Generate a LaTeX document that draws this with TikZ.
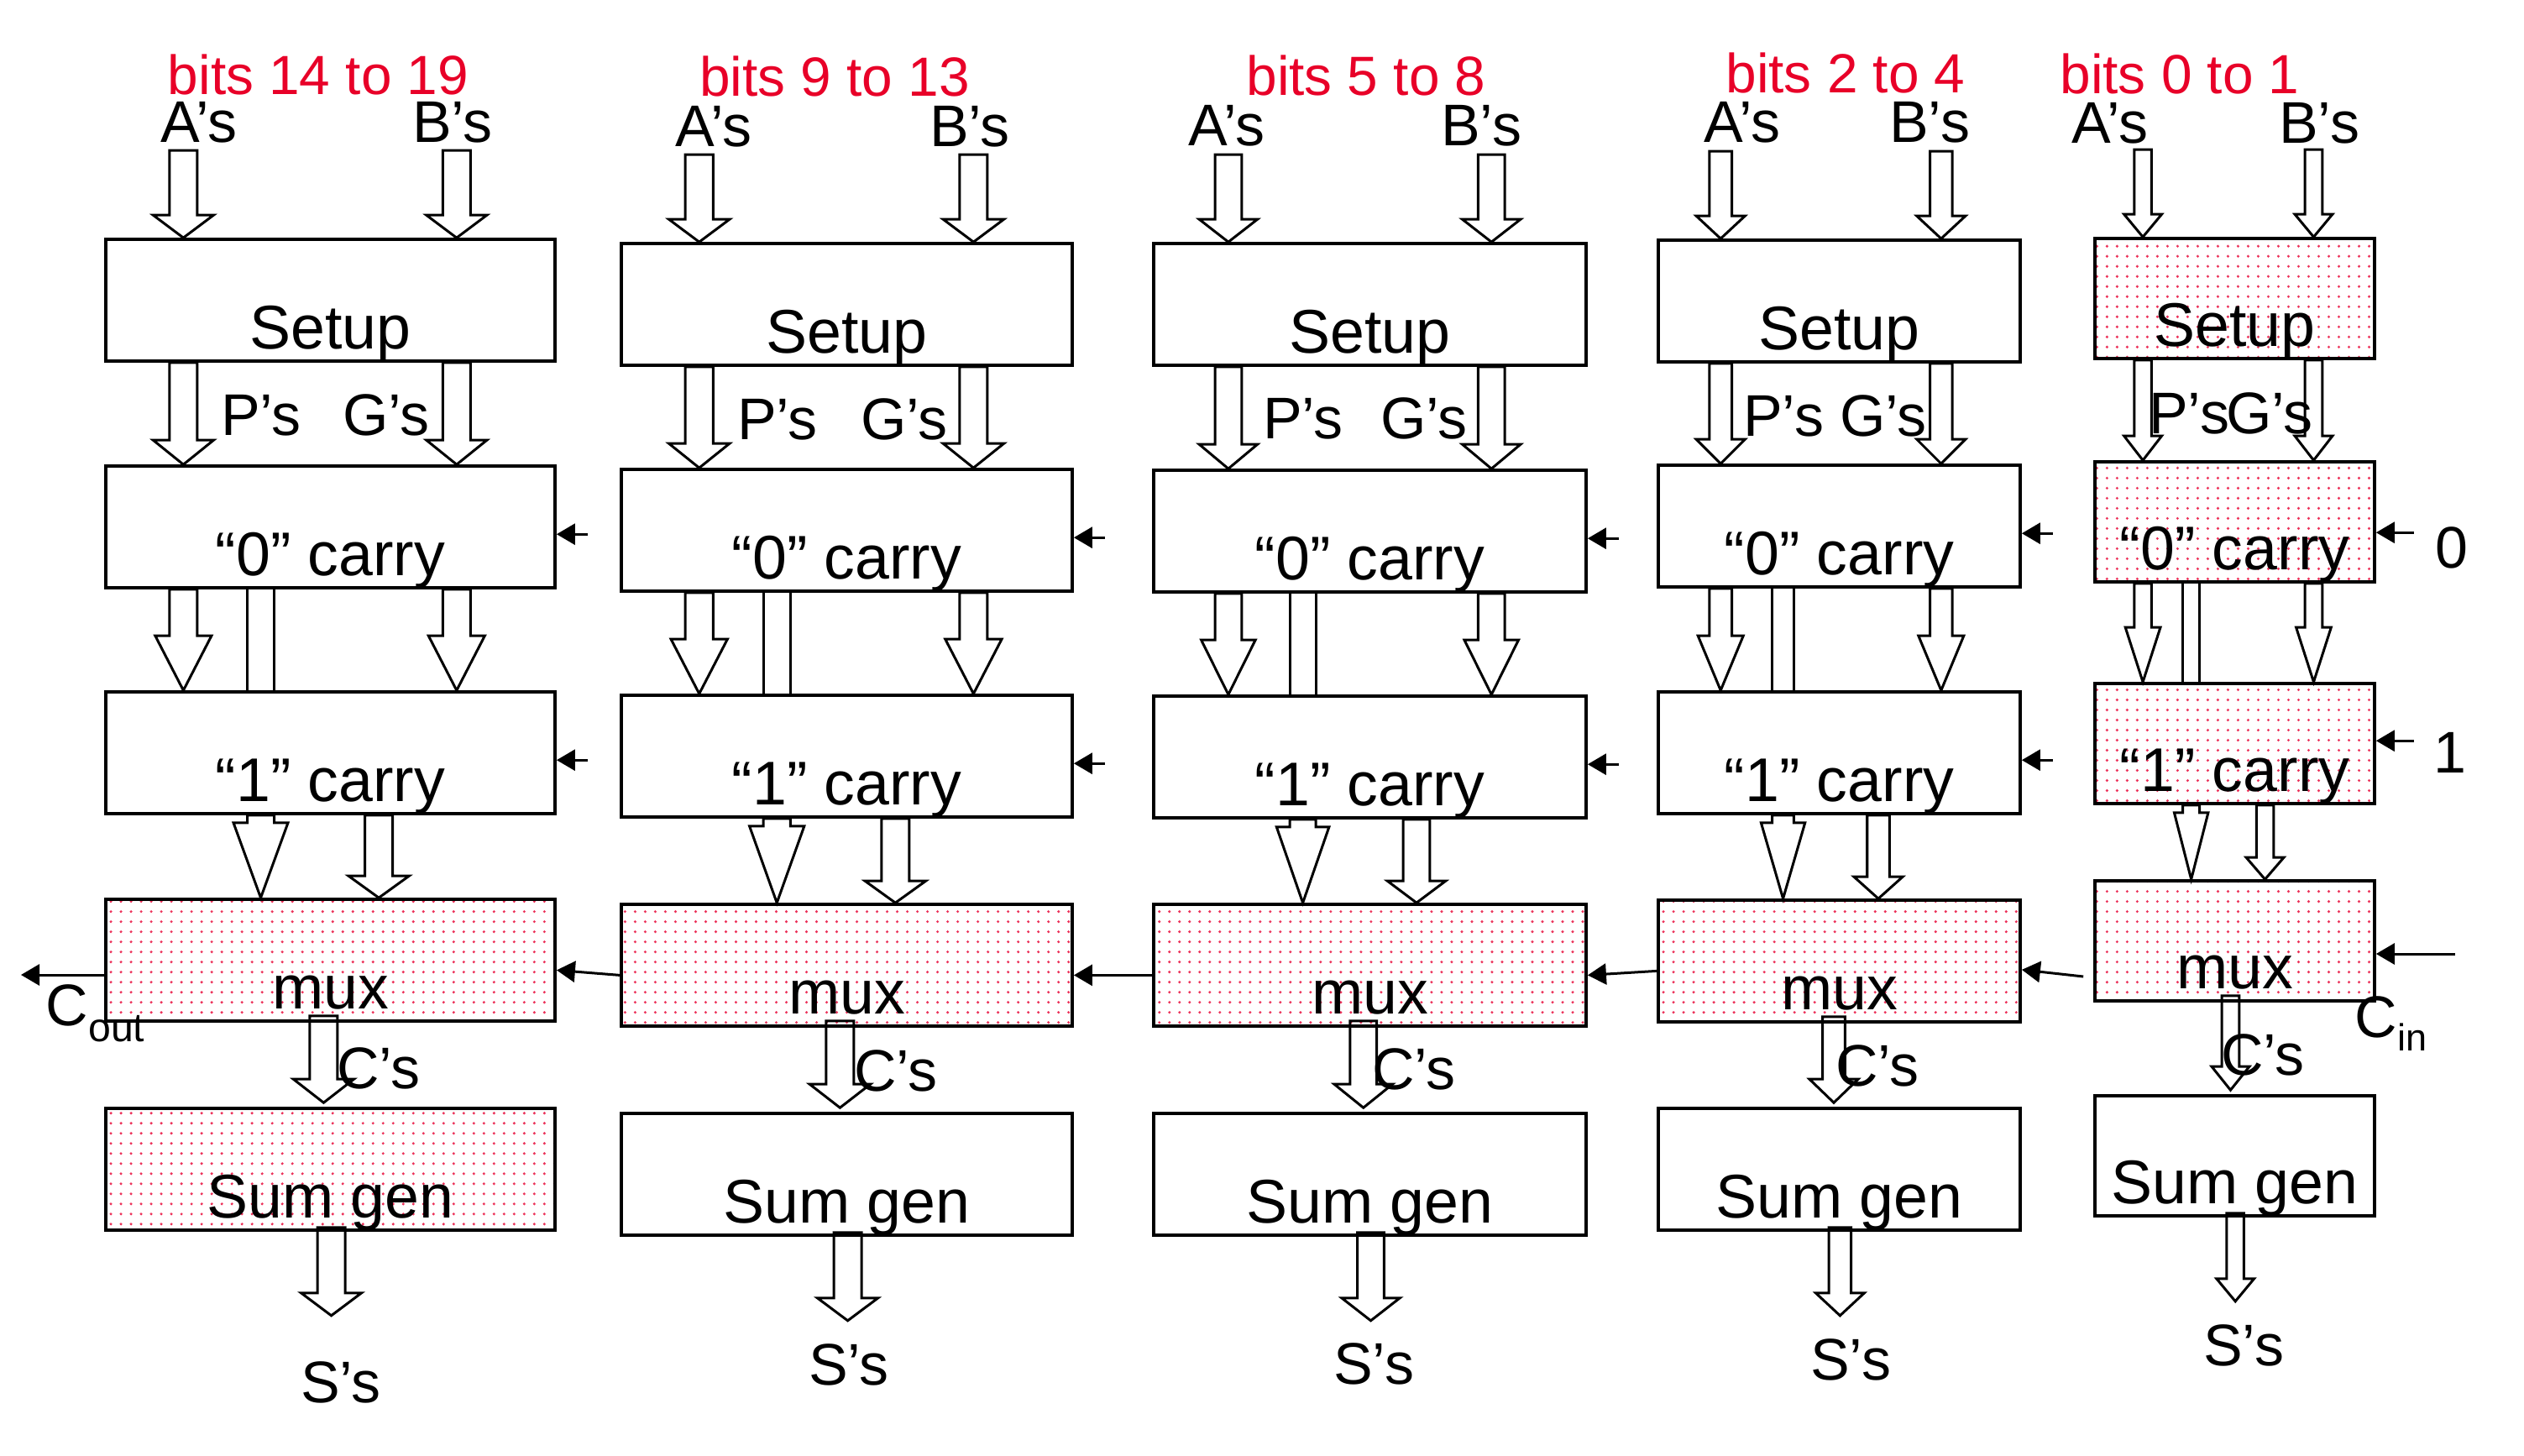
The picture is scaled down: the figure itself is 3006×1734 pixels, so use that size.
\documentclass[tikz,border=0pt]{standalone}
\usepackage{fontspec}
\setmainfont{Liberation Sans}
\usetikzlibrary{calc,arrows.meta,patterns.meta}
\definecolor{bitred}{RGB}{232,0,40}
\definecolor{dotred}{RGB}{236,50,90}
\newcommand{\boxfont}{\fontsize{20.9}{24}\selectfont}
\newcommand{\lblfont}{\fontsize{19.9}{24}\selectfont}
\newcommand{\bitfont}{\fontsize{18.7}{22}\selectfont}
\tikzset{
	stage/.style={draw, line width=0.035cm, inner sep=0pt, text depth=0.15cm, font=\boxfont},
	plain/.style={},
	dotfill/.style={pattern={Dots[distance=0.12cm, radius=0.017cm]}, pattern color=dotred},
	fat/.style={line width=0.03cm},
	thinarrow/.style={line width=0.03cm, -{Triangle[length=0.22cm, width=0.25cm]}},
	lbl/.style={anchor=base, inner sep=0pt, font=\lblfont},
	bitlbl/.style={lbl, font=\bitfont, text=bitred}
}
% hollow block arrow: start, tip, half shaft, half head, head length
\newcommand{\fatarrow}[5]{%
	\draw[fat] let \p1=#1, \p2=#2 in
	(\x1-#3,\y1) -- (\x1-#3,\y2+#5) -- (\x1-#4,\y2+#5) -- (\x2,\y2)
	-- (\x1+#4,\y2+#5) -- (\x1+#3,\y2+#5) -- (\x1+#3,\y1) -- cycle;}

\begin{document}
\begin{tikzpicture}[x=0.01cm, y=-0.01cm]
	\useasboundingbox (0,0) rectangle (3006,1734);

	% one slice per group of bits
	\foreach \col/\l/\w/\ya/\yb/\yc/\yd/\ye/\h/\fs/\fz/\fo/\fg in {
		1/126/535/285/555/824/1071/1320/145/plain/plain/plain/dotfill,
		2/740/537/290/559/828/1077/1326/145/plain/plain/plain/plain,
		3/1374/515/290/560/829/1077/1326/145/plain/plain/plain/plain,
		4/1975/431/286/554/824/1072/1320/145/plain/plain/plain/plain,
		5/2495/333/284/550/814/1049/1305/143/dotfill/dotfill/dotfill/plain}{
		\pgfmathsetmacro\s{\w/535}
		\pgfmathsetmacro\bw{\w/100}
		\pgfmathsetmacro\txh{(\h-15)/100}
		\pgfmathsetmacro\mx{\l+\w/2}
		\pgfmathsetmacro\shaftA{0.165*\s}
		\pgfmathsetmacro\shaftB{0.16*\s}
		\pgfmathsetmacro\headA{0.36*\s}
		\pgfmathsetmacro\headB{0.335*\s}
		\pgfmathsetmacro\headC{0.325*\s}
		\tikzset{cell/.style={stage, minimum width=\bw cm, text height=\txh cm}}

		\node[cell, \fs] (setup\col) at (\mx,\ya+\h/2) {Setup};
		\node[cell, \fz] (carry0\col) at (\mx,\yb+\h/2) {“0” carry};
		\node[cell, \fo] (carry1\col) at (\mx,\yc+\h/2) {“1” carry};
		\node[cell, dotfill] (mux\col) at (\mx,\yd+\h/2) {mux};
		\node[cell, \fg] (sum\col) at (\mx,\ye+\h/2) {Sum gen};

		% A's and B's in, P's and G's out
		\foreach \f in {.175,.779}{
			\fatarrow{($(setup\col.north west)!\f!(setup\col.north east)+(0,-104)$)}{($(setup\col.north west)!\f!(setup\col.north east)$)}{\shaftA cm}{\headA cm}{0.27cm}
			\fatarrow{($(setup\col.south west)!\f!(setup\col.south east)$)}{($(carry0\col.north west)!\f!(carry0\col.north east)$)}{\shaftA cm}{\headA cm}{0.29cm}
			\fatarrow{($(carry0\col.south west)!\f!(carry0\col.south east)$)}{($(carry1\col.north west)!\f!(carry1\col.north east)$)}{\shaftA cm}{\headB cm}{0.65cm}
		}
		\foreach \d in {-1,1}
			\draw[fat] ($(carry0\col.south west)!.346!(carry0\col.south east)+(\d*16*\s,0)$) -- ($(carry1\col.north west)!.346!(carry1\col.north east)+(\d*16*\s,0)$);

		% into the mux, then C's and S's
		\fatarrow{($(carry1\col.south west)!.346!(carry1\col.south east)$)}{($(mux\col.north west)!.346!(mux\col.north east)$)}{\shaftB cm}{\headC cm}{\y1-\y2-0.09cm}
		\fatarrow{($(carry1\col.south west)!.607!(carry1\col.south east)$)}{($(mux\col.north west)!.607!(mux\col.north east)$)}{\shaftA cm}{\headA cm}{0.26cm}
		\fatarrow{($(mux\col.south west)!.485!(mux\col.south east)+(0,-8)$)}{($(sum\col.north west)!.485!(sum\col.north east)+(0,-5)$)}{\shaftA cm}{\headA cm}{0.28cm}
		\fatarrow{($(sum\col.south west)!.502!(sum\col.south east)+(0,-5)$)}{($(sum\col.south west)!.502!(sum\col.south east)+(0,100)$)}{\shaftA cm}{\headA cm}{0.27cm}

		\ifnum\col<5
			\draw[thinarrow] ($(carry0\col.north east)+(37,83)$) -- ($(carry0\col.north east)+(0,83)$);
			\draw[thinarrow] ($(carry1\col.north east)+(37,83)$) -- ($(carry1\col.north east)+(0,83)$);
		\fi
	}

	% labels of each slice
	\foreach \col/\bits/\bx/\by/\ax/\bbx/\aby/\px/\gx/\py/\cx/\cy/\sx/\sy in {
		1/bits 14 to 19/379/113/237/539/170/311/460/519/451/1296/406/1670,
		2/bits 9 to 13/994/115/850/1155/175/926/1077/524/1067/1299/1011/1649,
		3/bits 5 to 8/1627/114/1461/1764/174/1552/1696/523/1684/1297/1636/1648,
		4/bits 2 to 4/2198/111/2075/2298/170/2124/2243/520/2236/1293/2204/1643,
		5/bits 0 to 1/2596/112/2513/2762/171/2607/2703/517/2695/1280/2672/1626}{
		\node[bitlbl] (bits\col) at (\bx,\by) {\bits};
		\node[lbl] (as\col) at (\ax,\aby) {A’s};
		\node[lbl] (bs\col) at (\bbx,\aby) {B’s};
		\node[lbl] (ps\col) at (\px,\py) {P’s};
		\node[lbl] (gs\col) at (\gx,\py) {G’s};
		\node[lbl] (cs\col) at (\cx,\cy) {C’s};
		\node[lbl] (ss\col) at (\sx,\sy) {S’s};
	}

	% carry chain
	\foreach \a/\b in {2/1,3/2,4/3}
		\draw[thinarrow] ($(mux\a.north west)!.58!(mux\a.south west)$) -- ($(mux\b.north east)!.58!(mux\b.south east)$);
	\draw[thinarrow] ($(mux5.north west)!.79!(mux5.south west)+(-12,0)$) -- ($(mux4.north east)!.57!(mux4.south east)$);

	\node[lbl] (zero) at (2920,677) {0};
	\node[lbl] (one) at (2918,920) {1};
	\draw[thinarrow] ($(carry05.north east)+(45,86)$) -- ($(carry05.north east)+(0,86)$);
	\draw[thinarrow] ($(carry15.north east)+(45,70)$) -- ($(carry15.north east)+(0,70)$);

	\coordinate (cin) at (2924,1136);
	\coordinate (cout) at (25,1161);
	\draw[thinarrow] (cin) -- (mux5.east |- cin);
	\draw[thinarrow] (mux1.west |- cout) -- (cout);
	\node[lbl, anchor=base west] (coutlbl) at (54,1221) {C\raisebox{-0.19cm}{\fontsize{13.7}{16}\selectfont out}};
	\node[lbl, anchor=base west] (cinlbl) at (2804,1235) {C\raisebox{-0.16cm}{\fontsize{12.8}{15}\selectfont in}};
\end{tikzpicture}
\end{document}
